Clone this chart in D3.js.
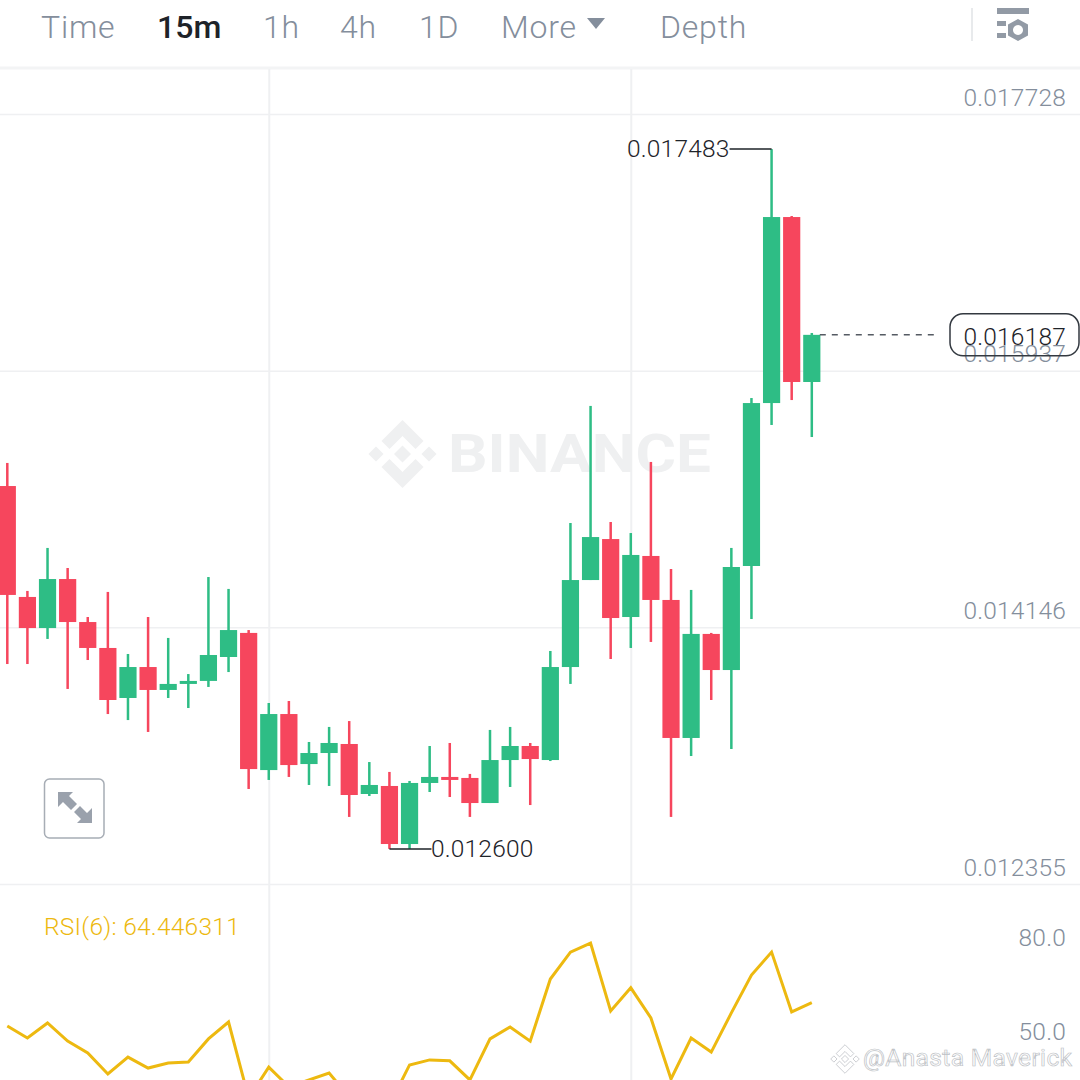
<!DOCTYPE html>
<html>
<head>
<meta charset="utf-8">
<script src="https://cdn.jsdelivr.net/npm/d3@7"></script>
<style>
  html, body { margin: 0; padding: 0; background: #fff; }
  svg { display: block; }
  text { font-family: Roboto, "Noto Sans", sans-serif; }
</style>
</head>
<body>
<svg width="1080" height="1080" viewBox="0 0 1080 1080"></svg>
<script>
const opens = [0.015132,0.014358,0.014141,0.014483,0.014183,0.014002,0.013653,0.013869,0.013709,0.013751,0.013772,0.013939,0.014107,0.013150,0.013541,0.013192,0.013269,0.013332,0.012983,0.013039,0.012634,0.013060,0.013102,0.013095,0.012920,0.013220,0.013318,0.013220,0.013869,0.014476,0.014762,0.014218,0.014644,0.014337,0.013374,0.014100,0.013848,0.014574,0.015711,0.017009,0.015858];
const highs = [0.015293,0.014400,0.014700,0.014560,0.014218,0.014393,0.013960,0.014218,0.014072,0.013820,0.014497,0.014414,0.014127,0.013618,0.013632,0.013346,0.013451,0.013492,0.013206,0.013137,0.013074,0.013318,0.013339,0.013123,0.013430,0.013451,0.013339,0.013981,0.014874,0.015691,0.014881,0.014804,0.015300,0.014553,0.014407,0.014107,0.014700,0.015746,0.017483,0.017016,0.016200];
const lows = [0.013890,0.013890,0.014065,0.013716,0.013918,0.013541,0.013499,0.013416,0.013653,0.013583,0.013730,0.013834,0.013018,0.013081,0.013102,0.013046,0.013039,0.012823,0.012969,0.012600,0.012600,0.012997,0.012962,0.012823,0.012920,0.013032,0.012906,0.013213,0.013751,0.014476,0.013925,0.014002,0.014044,0.012823,0.013248,0.013639,0.013297,0.014204,0.015558,0.015732,0.015474];
const closes = [0.014372,0.014141,0.014483,0.014183,0.014002,0.013639,0.013869,0.013709,0.013751,0.013772,0.013953,0.014127,0.013157,0.013541,0.013185,0.013269,0.013339,0.012976,0.013046,0.012634,0.013060,0.013102,0.013081,0.012920,0.013220,0.013318,0.013227,0.013869,0.014476,0.014776,0.014211,0.014651,0.014337,0.013374,0.014100,0.013848,0.014567,0.015711,0.017009,0.015858,0.016187];
const rsi6 = [57.0,53.2,58.0,52.2,48.4,41.7,47.1,43.6,45.2,45.5,52.9,58.3,34.0,43.9,37.6,39.8,42.0,34.4,35.0,31.8,44.6,46.2,45.9,39.8,52.9,56.7,52.2,72.0,80.6,83.5,61.8,69.2,59.6,40.1,53.2,48.7,61.2,73.3,80.6,61.5,64.446311];
const priceTicks = [0.017728,0.015937,0.014146,0.012355];
const rsiTicks = [80,50];
const timeGridIndex = [13,31];
const tabLabels = ["Time","15m","1h","4h","1D","More","Depth"];
const activeTab = "15m";
const highIndex = 38, lowIndex = 19, lastIndex = 40;

const GREEN = "#2EBD85", RED = "#F6465D", GRID = "#EFF0F2", GREY = "#848E9C", DARK = "#1E2329", GOLD = "#EDB910";

const svg = d3.select("svg");
const x = d3.scaleLinear().domain([0,40]).range([7.3,811.8]);
const y = d3.scaleLinear().domain([0.012355,0.017728]).range([884,114]);
const yRsi = d3.scaleLinear().domain([50,80]).range([1048,954]);
const tabX = d3.scaleOrdinal(tabLabels,[41,157,263,340,419,501,660]);

// header
svg.append("rect").attr("x",0).attr("y",66.5).attr("width",1080).attr("height",3).attr("fill","#F3F4F5");
svg.append("g").selectAll("text").data(tabLabels).enter().append("text")
  .attr("x",d => tabX(d)).attr("y",38)
  .attr("font-size",32)
  .attr("letter-spacing",d => d === activeTab ? 0 : 0.8)
  .attr("font-weight",d => d === activeTab ? 500 : 300)
  .attr("fill",d => d === activeTab ? DARK : "#848E9C")
  .text(d => d);
svg.append("path").attr("d","M587 18H605L596 29Z").attr("fill","#848E9C");
svg.append("rect").attr("x",971).attr("y",8).attr("width",2).attr("height",33).attr("fill","#E8EAEC");
const gear = svg.append("g").attr("fill","#929AA5");
gear.append("rect").attr("x",997).attr("y",8).attr("width",32).attr("height",6);
gear.append("rect").attr("x",997).attr("y",21).attr("width",9).attr("height",5);
gear.append("rect").attr("x",997).attr("y",33).attr("width",9).attr("height",5);
gear.append("path").attr("fill-rule","evenodd")
  .attr("d","M1018 19L1028 24.5V35.5L1018 41L1008 35.5V24.5ZM1018 25a5 5 0 1 0 .01 0Z");

// grid
const gridY = svg.append("g")
  .call(d3.axisRight(y).tickValues(priceTicks).tickSize(1080).tickFormat(d3.format(".6f")));
gridY.select(".domain").remove();
gridY.selectAll("line").attr("stroke",GRID).attr("stroke-width",1.5);
gridY.selectAll("text").attr("x",1066).attr("dy",-9).attr("text-anchor","end")
  .attr("font-size",24.5).attr("letter-spacing",0.2).attr("font-weight",300).attr("fill",GREY).style("font-family","Roboto");

const gridX = svg.append("g").attr("transform","translate(0,69)")
  .call(d3.axisBottom(x).tickValues(timeGridIndex).tickSize(1011).tickFormat(""));
gridX.select(".domain").remove();
gridX.selectAll("line").attr("stroke",GRID).attr("stroke-width",2);

// watermark
const logoPath = "M0 -34L21 -13L13 -5L0 -18L-13 -5L-21 -13Z M0 34L21 13L13 5L0 18L-13 5L-21 13Z M0 -8.5L8.5 0L0 8.5L-8.5 0Z M-26.5 -7.5L-19 0L-26.5 7.5L-34 0Z M26.5 -7.5L34 0L26.5 7.5L19 0Z";
svg.append("path").attr("d",logoPath).attr("transform","translate(402.5,454)").attr("fill","#EFF0F1");
svg.append("text").attr("x",448).attr("y",472).attr("font-size",54).attr("font-weight",700)
  .attr("textLength",263).attr("lengthAdjust","spacingAndGlyphs")
  .attr("fill","#EFF0F1").text("BINANCE");

// candles
const candles = d3.range(opens.length);
const candle = svg.append("g").selectAll("g").data(candles).enter().append("g")
  .attr("fill",i => closes[i] >= opens[i] ? GREEN : RED);
candle.append("rect")
  .attr("x",i => x(i)-1.25).attr("width",2.5)
  .attr("y",i => y(highs[i]))
  .attr("height",i => y(lows[i])-y(highs[i]));
candle.append("rect")
  .attr("x",i => x(i)-8.6).attr("width",17.2)
  .attr("y",i => y(Math.max(opens[i],closes[i])))
  .attr("height",i => Math.max(2,Math.abs(y(opens[i])-y(closes[i]))));

// high / low markers
svg.append("path")
  .attr("d",`M${x(highIndex)-42} ${y(highs[highIndex])}H${x(highIndex)}`)
  .attr("stroke",DARK).attr("stroke-width",1.5).attr("fill","none");
svg.append("text").attr("x",x(highIndex)-42).attr("y",y(highs[highIndex])+8)
  .attr("text-anchor","end").attr("font-size",24.5).attr("letter-spacing",0.2).attr("font-weight",300).attr("fill",DARK)
  .text(d3.format(".6f")(highs[highIndex]));
svg.append("path")
  .attr("d",`M${x(lowIndex)} ${y(lows[lowIndex])}H${x(lowIndex)+42}`)
  .attr("stroke",DARK).attr("stroke-width",1.5).attr("fill","none");
svg.append("text").attr("x",x(lowIndex)+41.5).attr("y",y(lows[lowIndex])+8)
  .attr("font-size",24.5).attr("letter-spacing",0.2).attr("font-weight",300).attr("fill",DARK)
  .text(d3.format(".6f")(lows[lowIndex]));

// last price
svg.append("line").attr("x1",x(lastIndex)+8).attr("x2",937)
  .attr("y1",y(closes[lastIndex])).attr("y2",y(closes[lastIndex]))
  .attr("stroke","#555B63").attr("stroke-width",1.5).attr("stroke-dasharray","6 6");
svg.append("rect").attr("x",950).attr("y",y(closes[lastIndex])-21).attr("width",129).attr("height",42).attr("rx",13)
  .attr("fill","none").attr("stroke","#333940").attr("stroke-width",1.5);
svg.append("text").attr("x",1066).attr("y",y(closes[lastIndex])+10)
  .attr("text-anchor","end").attr("font-size",24.5).attr("letter-spacing",0.2).attr("font-weight",300).attr("fill",DARK)
  .text(d3.format(".6f")(closes[lastIndex]));

// expand button
svg.append("rect").attr("x",44.5).attr("y",779).attr("width",59.5).attr("height",59).attr("rx",5)
  .attr("fill","#fff").attr("stroke","#A7ADB5").attr("stroke-width",1.5);
const expand = svg.append("g").attr("fill","#9AA1AC");
expand.append("path").attr("d","M58 792H73L69 796L77 804L71 810L63 802L58 807Z");
expand.append("path").attr("d","M92 823H77L81 819L74 812L80 806L87 813L92 808Z");

// RSI pane
const rsiAxis = svg.append("g")
  .call(d3.axisRight(yRsi).tickValues(rsiTicks).tickSize(0).tickFormat(d3.format(".1f")));
rsiAxis.select(".domain").remove();
rsiAxis.selectAll("text").attr("x",1066).attr("dy",-9).attr("text-anchor","end")
  .attr("font-size",24.5).attr("letter-spacing",0.2).attr("font-weight",300).attr("fill",GREY).style("font-family","Roboto");
svg.append("text").attr("x",44).attr("y",935).attr("font-size",24.5).attr("letter-spacing",0.25).attr("font-weight",300).attr("fill",GOLD)
  .text("RSI(6): " + d3.format(".6f")(rsi6[lastIndex]));
const rsiLine = d3.line().x((d,i) => x(i)).y(d => yRsi(d));
svg.append("path").datum(rsi6).attr("d",rsiLine)
  .attr("fill","none").attr("stroke",GOLD).attr("stroke-width",3).attr("stroke-linejoin","miter");

// author watermark
svg.append("path").attr("d",logoPath).attr("transform","translate(845,1059) scale(0.42)")
  .attr("fill","#fff").attr("stroke","#C2C5C9").attr("stroke-width",2);
svg.append("text").attr("x",863).attr("y",1066).attr("font-size",24.5)
  .attr("textLength",209).attr("lengthAdjust","spacing")
  .attr("fill","#fff").attr("stroke","#BDC1C5").attr("stroke-width",0.7)
  .text("@Anasta Maverick");
</script>
</body>
</html>
